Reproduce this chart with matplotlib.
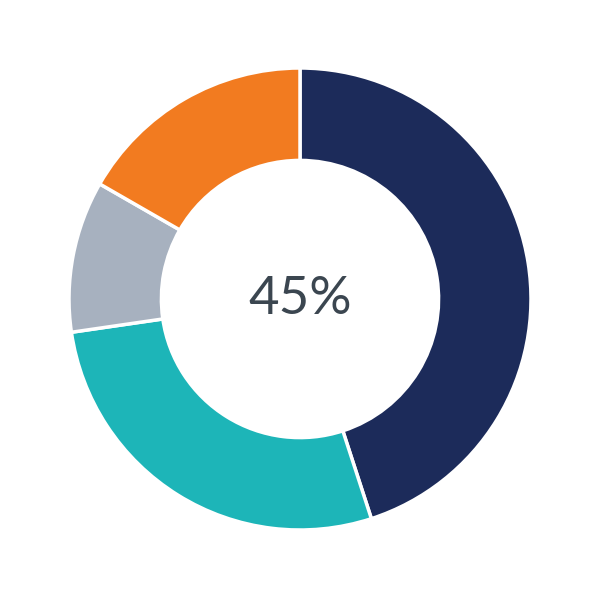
import matplotlib.pyplot as plt

# Segment shares (clockwise from 12 o'clock)
labels = ['Navy', 'Teal', 'Gray', 'Orange']
values = [45, 27.7, 10.6, 16.7]
colors = ['#1c2b5a', '#1db5b8', '#a7b1bf', '#f27b20']
center_text = '45%'

fig = plt.figure(figsize=(6, 5.99), dpi=100)
ax = fig.add_axes([0, 0, 1, 1])

ax.pie(values, colors=colors, startangle=90, counterclock=False,
       radius=1.0,
       wedgeprops=dict(width=0.40, edgecolor='white', linewidth=2.5))

ax.text(0, 0, center_text, ha='center', va='center', fontsize=38,
        family=['Lato', 'DejaVu Sans'], color='#3b4650')

# place the donut: center at (300, 299) px, outer radius ~231 px
r = 231.0
ax.set_xlim(-300 / r, 300 / r)
ax.set_ylim(-300 / r, 299 / r)
ax.set_aspect('auto')
ax.axis('off')

fig.savefig('out.png', dpi=100, facecolor='white')
